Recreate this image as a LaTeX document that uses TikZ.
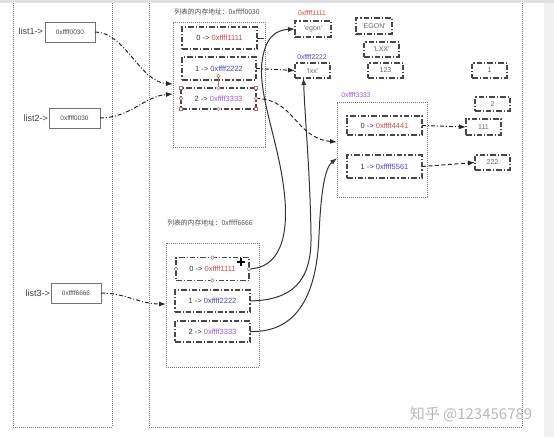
\documentclass[tikz,border=0pt]{standalone}
\usepackage{fontspec}
\setmainfont{Liberation Sans}[Ligatures=TeXOff]
\newfontfamily\cjk{Noto Sans CJK SC}
\usetikzlibrary{arrows.meta}
\definecolor{cred}{RGB}{215,70,70}
\definecolor{cblue}{RGB}{70,70,200}
\definecolor{cpurple}{RGB}{150,90,210}
\definecolor{hcol}{RGB}{175,120,110}
\begin{document}
\begin{tikzpicture}[x=1pt,y=-1pt,
  every node/.style={inner sep=0pt, outer sep=0pt},
  lbox/.style={draw=black!55, line width=0.8pt, fill=white, font=\fontsize{6.5}{7}\selectfont, text=black!70},
  ddbox/.style={draw=black!72, line width=1.3pt, dash pattern=on 5.5pt off 2pt on 1.2pt off 2pt, font=\fontsize{7.5}{8}\selectfont, text=black!80},
  vbox/.style={ddbox, font=\fontsize{7}{8}\selectfont, text=black!60, minimum width=35pt, minimum height=15pt},
  cont/.style={draw=black!55, line width=0.9pt, dash pattern=on 0.9pt off 1.1pt},
  ddline/.style={draw=black!85, line width=1pt, dash pattern=on 4pt off 2pt on 1pt off 2pt},
  dline/.style={draw=black!85, line width=1pt, dash pattern=on 4pt off 2.5pt},
  sline/.style={draw=black!80, line width=1pt},
  tip/.style={-{Latex[length=7pt,width=5pt]}},
  listlab/.style={font=\fontsize{9}{10}\selectfont, text=black!75, anchor=east},
  addr/.style={font=\fontsize{6.8}{7}\selectfont},
  lab/.style={font=\cjk\fontsize{6.8}{7}\selectfont, text=black!70},
  hc/.style={draw=hcol, fill=white, line width=0.6pt},
]
\useasboundingbox (0,0) rectangle (554,437);
\fill[black!12] (0,0) rectangle (554,3);
\fill[black!6] (544,3) rectangle (554,437);

% columns
\draw[cont] (13,3) -- (13,427) -- (112,427) -- (112,3);
\draw[cont] (149,3) -- (149,427) -- (522,427) -- (522,3);

% list variables
\node[listlab] (t1) at (43,31) {list1->};
\node[lbox, minimum width=50pt, minimum height=20pt] (b1) at (70,32) {0xffff0030};
\node[listlab] (t2) at (48,118) {list2->};
\node[lbox, minimum width=51pt, minimum height=20pt] (b2) at (74.5,118) {0xffff0030};
\node[listlab] (t3) at (50,293) {list3->};
\node[lbox, minimum width=50pt, minimum height=20pt] (b3) at (76,293) {0xffff6666};

% first list object
\node[lab] (l1) at (217,12) {列表的内存地址：0xffff0030};
\node[cont, minimum width=92pt, minimum height=125pt] (c1) at (219,84.5) {};
\node[ddbox, minimum width=75pt, minimum height=22pt] (a0) at (219.5,38) {0 -> \textcolor{cred}{0xffff1111}};
\node[ddbox, minimum width=74pt, minimum height=23pt] (a1) at (219,68.5) {1 -> \textcolor{cblue}{0xffff2222}};
\node[ddbox, minimum width=75pt, minimum height=21pt] (a2) at (218.5,98.5) {2 -> \textcolor{cpurple}{0xffff3333}};

% second list object
\node[lab] (l2) at (210,223) {列表的内存地址：0xffff6666};
\node[cont, minimum width=93pt, minimum height=124pt] (c2) at (212.5,305) {};
\node[ddbox, minimum width=73pt, minimum height=23pt] (m0) at (212.5,269) {0 -> \textcolor{cred}{0xffff1111}};
\node[ddbox, minimum width=75pt, minimum height=22pt] (m1) at (212.5,301) {1 -> \textcolor{cblue}{0xffff2222}};
\node[ddbox, minimum width=75pt, minimum height=21pt] (m2) at (212.5,331.5) {2 -> \textcolor{cpurple}{0xffff3333}};

% values
\node[addr, text=cred] (la) at (312,13) {0xffff1111};
\node[vbox, minimum width=36pt, minimum height=16pt] (egon) at (313,29) {'egon'};
\node[vbox, minimum width=36pt, minimum height=16pt] (EGON) at (374,26) {'EGON'};
\node[vbox] (LXX) at (381.5,49.5) {'LXX'};
\node[addr, text=cblue] (lb) at (312,57) {0xffff2222};
\node[vbox] (lxx) at (312.5,70.5) {'lxx'};
\node[vbox] (v123) at (385.5,70.5) {123};
\node[vbox] (v1) at (489.5,70.5) {1};
\node[vbox, minimum height=14pt] (v2) at (492.5,104) {2};
\node[vbox, minimum height=16pt] (v111) at (483.5,127) {111};
\node[vbox] (v222) at (492.5,162.5) {222};

% nested list object
\node[addr, text=cpurple] (lc) at (356,95) {0xffff3333};
\node[cont, minimum width=90pt, minimum height=95pt] (c3) at (382,149.5) {};
\node[ddbox, minimum width=75pt, minimum height=19pt] (d0) at (384.5,125.5) {0 -> \textcolor{cred}{0xffff4441}};
\node[ddbox, minimum width=75pt, minimum height=23pt] (d1) at (384.5,166.5) {1 -> \textcolor{cblue}{0xffff5561}};

% connectors
\draw[ddline, tip] (b1.east) .. controls (125,32) and (140,82) .. ([yshift=0.5pt]c1.west);
\draw[ddline, tip] (b2.east) .. controls (130,118) and (145,96) .. ([yshift=-9.5pt]c1.west);
\draw[ddline, tip] (b3.east) .. controls (125,293) and (140,304) .. ([yshift=1pt]c2.west);
\draw[ddline, tip] (a1.east) -- (lxx.west);
\draw[dline, tip] (a2.east) .. controls (295,99) and (295,138) .. ([yshift=7.5pt]c3.west);
\draw[ddline, tip] (d0.east) -- (v111.west);
\draw[dline, tip] (d1.east) -- (v222.west);
\draw[sline] (a0.east) -- ++(7,0);
\draw[sline, tip] (m0.east) .. controls (278,268) and (290,240) .. (284,190)
  .. controls (278,140) and (258,95) .. (262,62)
  .. controls (265,38) and (275,30) .. (egon.west);
\draw[sline, tip] (m1.east) .. controls (292,300) and (312,282) .. (311,235)
  .. controls (310,170) and (305,120) .. ([xshift=-9pt]lxx.south);
\draw[sline, tip] (m2.east) .. controls (300,333) and (317,290) .. (319,235)
  .. controls (321,190) and (325,168) .. ([yshift=-8.5pt]c3.west);

% selection handles (editor artefacts)
\draw[hcol, line width=0.6pt] (a2.north) -- ++(0,-12);
\foreach \p in {a2.north west, a2.north east, a2.south west, a2.south east}
  \filldraw[hc] ([xshift=-1.7pt,yshift=-1.7pt]\p) rectangle ([xshift=1.7pt,yshift=1.7pt]\p);
\foreach \p in {a2.north, a2.south, a2.west, a2.east}
  \filldraw[hc] (\p) circle (1.8pt);
\filldraw[hc] ([yshift=12pt]a2.north) circle (1.8pt);
\foreach \p in {m0.north, m0.south, m0.west, m0.east}
  \filldraw[hc] (\p) circle (1.8pt);
\draw[black, line width=1.2pt] (237,262) -- (245,262) (241,258) -- (241,266);

% watermark
\node[font=\cjk\fontsize{15}{16}\selectfont, text=black!28] (wm) at (471,414) {知乎 @123456789};
\end{tikzpicture}
\end{document}
